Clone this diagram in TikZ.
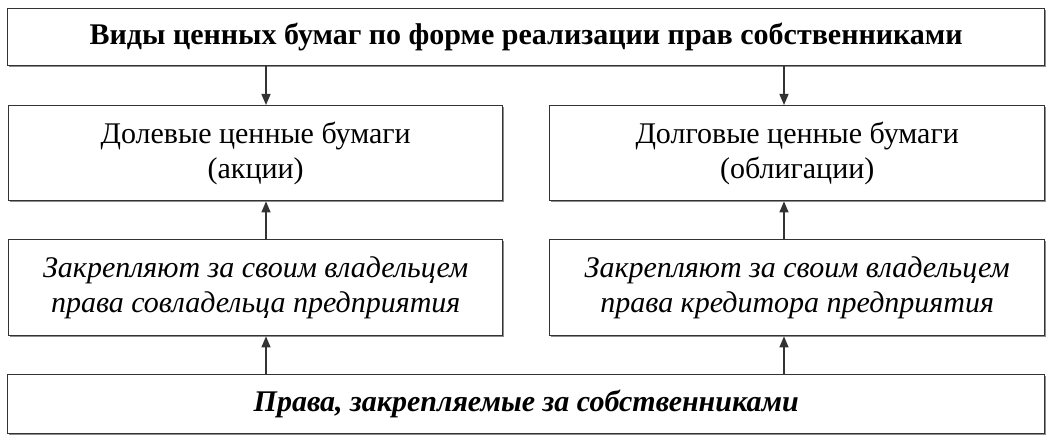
\documentclass[tikz,border=0pt]{standalone}
\usepackage{fontspec}
\setmainfont{Liberation Serif}
\usetikzlibrary{arrows.meta,shadows}
\definecolor{edge}{HTML}{333333}
\begin{document}
\begin{tikzpicture}[x=1pt,y=-1pt,
  box/.style={draw=edge,line width=1.4pt,fill=white,anchor=north west,align=center,inner sep=0pt,
    font=\fontsize{30}{35}\selectfont,
    drop shadow={shadow xshift=1.6pt,shadow yshift=-1.6pt,fill=black,opacity=0.45}},
  arr/.style={draw=edge,line width=1.4pt,-{Triangle[length=11pt,width=9pt]}}]
\useasboundingbox (0,0) rectangle (1052,443);
\node[box,minimum width=1037pt,minimum height=57pt] (top) at (7,8) {\textbf{Виды ценных бумаг по форме реализации прав собственниками}};
\node[box,minimum width=494pt,minimum height=95pt] (ml) at (8,105) {Долевые ценные бумаги\\(акции)};
\node[box,minimum width=495pt,minimum height=95pt] (mr) at (549,105) {Долговые ценные бумаги\\(облигации)};
\node[box,minimum width=494pt,minimum height=96pt] (ll) at (8,239) {\textit{Закрепляют за своим владельцем}\\\textit{права совладельца предприятия}};
\node[box,minimum width=495pt,minimum height=96pt] (lr) at (549,239) {\textit{Закрепляют за своим владельцем}\\\textit{права кредитора предприятия}};
\node[box,minimum width=1037pt,minimum height=59pt] (bot) at (7,374) {\textbf{\textit{Права, закрепляемые за собственниками}}};
\coordinate (a1) at (266,0);
\coordinate (a2) at (784,0);
\draw[arr] (top.south -| a1) -- (ml.north -| a1);
\draw[arr] (top.south -| a2) -- (mr.north -| a2);
\draw[arr] (ll.north -| a1) -- (ml.south -| a1);
\draw[arr] (lr.north -| a2) -- (mr.south -| a2);
\draw[arr] (bot.north -| a1) -- (ll.south -| a1);
\draw[arr] (bot.north -| a2) -- (lr.south -| a2);
\end{tikzpicture}
\end{document}
